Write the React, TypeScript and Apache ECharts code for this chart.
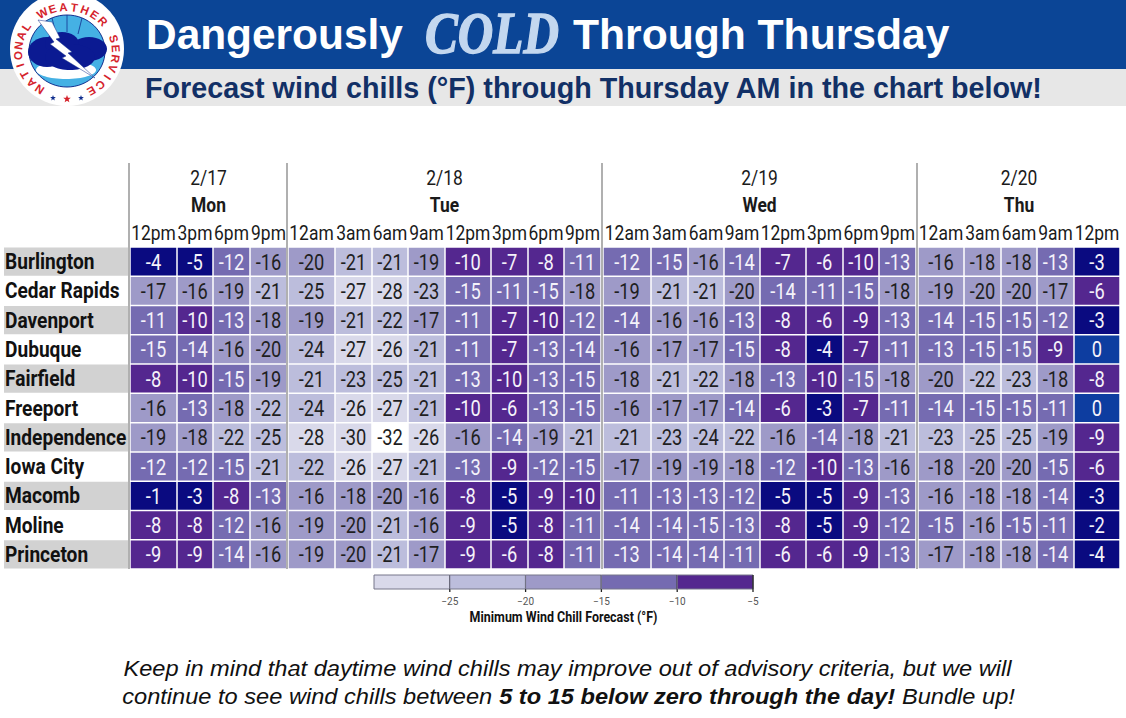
import React, { useEffect, useRef } from "react";
import * as echarts from "echarts";

const cities = ["Burlington","Cedar Rapids","Davenport","Dubuque","Fairfield","Freeport","Independence","Iowa City","Macomb","Moline","Princeton"];
const hours = ["12pm","3pm","6pm","9pm","12am","3am","6am","9am","12pm","3pm","6pm","9pm","12am","3am","6am","9am","12pm","3pm","6pm","9pm","12am","3am","6am","9am","12pm"];
const dates = ["2/17","2/18","2/19","2/20"];
const dayNames = ["Mon","Tue","Wed","Thu"];
const dayColumnCounts = [4,8,8,5];

const burlington = [-4,-5,-12,-16,-20,-21,-21,-19,-10,-7,-8,-11,-12,-15,-16,-14,-7,-6,-10,-13,-16,-18,-18,-13,-3];
const cedarRapids = [-17,-16,-19,-21,-25,-27,-28,-23,-15,-11,-15,-18,-19,-21,-21,-20,-14,-11,-15,-18,-19,-20,-20,-17,-6];
const davenport = [-11,-10,-13,-18,-19,-21,-22,-17,-11,-7,-10,-12,-14,-16,-16,-13,-8,-6,-9,-13,-14,-15,-15,-12,-3];
const dubuque = [-15,-14,-16,-20,-24,-27,-26,-21,-11,-7,-13,-14,-16,-17,-17,-15,-8,-4,-7,-11,-13,-15,-15,-9,0];
const fairfield = [-8,-10,-15,-19,-21,-23,-25,-21,-13,-10,-13,-15,-18,-21,-22,-18,-13,-10,-15,-18,-20,-22,-23,-18,-8];
const freeport = [-16,-13,-18,-22,-24,-26,-27,-21,-10,-6,-13,-15,-16,-17,-17,-14,-6,-3,-7,-11,-14,-15,-15,-11,0];
const independence = [-19,-18,-22,-25,-28,-30,-32,-26,-16,-14,-19,-21,-21,-23,-24,-22,-16,-14,-18,-21,-23,-25,-25,-19,-9];
const iowaCity = [-12,-12,-15,-21,-22,-26,-27,-21,-13,-9,-12,-15,-17,-19,-19,-18,-12,-10,-13,-16,-18,-20,-20,-15,-6];
const macomb = [-1,-3,-8,-13,-16,-18,-20,-16,-8,-5,-9,-10,-11,-13,-13,-12,-5,-5,-9,-13,-16,-18,-18,-14,-3];
const moline = [-8,-8,-12,-16,-19,-20,-21,-16,-9,-5,-8,-11,-14,-14,-15,-13,-8,-5,-9,-12,-15,-16,-15,-11,-2];
const princeton = [-9,-9,-14,-16,-19,-20,-21,-17,-9,-6,-8,-11,-13,-14,-14,-11,-6,-6,-9,-13,-17,-18,-18,-14,-4];
const rows = [burlington,cedarRapids,davenport,dubuque,fairfield,freeport,independence,iowaCity,macomb,moline,princeton];

const legendStops = [-30,-25,-20,-15,-10,-5];
const legendTitle = "Minimum Wind Chill Forecast (°F)";

// Layout only
const columnWidths = [47,36,37,37, 47,37,36,37,46,37,36,37, 48,37,36,36,46,37,36,37, 46,37,36,37,46];
const dayGaps = [0,1,2,2];
const PURPLES = ["#d9d9ea","#bcbddc","#9e9ac8","#756bb1","#54278f"];
const NAVY = "#0a0a80";
const ZERO_BLUE = "#0d3da0";
const SANS = "Liberation Sans, Arial, sans-serif";
const COND = "Roboto, sans-serif";
const SX = 0.85;

function cellColor(v: number) {
  if (v < -30) return "#ffffff";
  if (v <= -26) return PURPLES[0];
  if (v <= -21) return PURPLES[1];
  if (v <= -16) return PURPLES[2];
  if (v <= -11) return PURPLES[3];
  if (v <= -6) return PURPLES[4];
  if (v < 0) return NAVY;
  return ZERO_BLUE;
}

// column edges on the pixel-proportional x scale
const colStart: number[] = [];
const colEnd: number[] = [];
const dayStart: number[] = [];
const dayEnd: number[] = [];
(function () {
  let x = 0, c = 0;
  dayColumnCounts.forEach((n, d) => {
    x += dayGaps[d];
    dayStart.push(x);
    for (let i = 0; i < n; i++, c++) {
      colStart.push(x);
      x += columnWidths[c];
      colEnd.push(x);
    }
    dayEnd.push(x);
  });
})();
const X_MAX = colEnd[colEnd.length - 1];

const cellData: number[][] = [];
rows.forEach((r, ri) => r.forEach((v, ci) => cellData.push([ci, ri, v])));

function renderCell(params: any, api: any) {
  const c = api.value(0), r = api.value(1), v = api.value(2);
  const a = api.coord([colStart[c], r]);
  const b = api.coord([colEnd[c], r]);
  const h = api.size([0, 1])[1];
  const gap = 1.5;
  return {
    type: "group",
    children: [
      { type: "rect", shape: { x: a[0] + gap / 2, y: a[1] - h / 2 + gap / 2, width: b[0] - a[0] - gap, height: h - gap }, style: { fill: cellColor(v) } },
      { type: "text", x: (a[0] + b[0]) / 2, y: a[1] + 0.5, scaleX: SX, style: { text: String(v), fontFamily: COND, fontSize: 21.5, fill: v >= -15 ? "#f4f2fa" : "#1f1f1f", textAlign: "center", textVerticalAlign: "middle" } },
    ],
  };
}

function renderRowLabel(params: any, api: any) {
  const r = api.value(0);
  const p = api.coord([0, r]);
  const h = api.size([0, 1])[1];
  const children: any[] = [];
  if (r % 2 === 0) children.push({ type: "rect", shape: { x: p[0] - 126, y: p[1] - h / 2 + 0.5, width: 125, height: h - 1 }, style: { fill: "#d2d2d2" } });
  children.push({ type: "text", x: p[0] - 125, y: p[1], scaleX: 0.85, style: { text: cities[r], fontFamily: COND, fontWeight: 700, fontSize: 22.5, fill: "#111", textAlign: "left", textVerticalAlign: "middle" } });
  return { type: "group", children };
}

function renderHour(params: any, api: any) {
  const c = api.value(0);
  const p = api.coord([(colStart[c] + colEnd[c]) / 2, 0]);
  const h = api.size([0, 1])[1];
  return { type: "text", x: p[0], y: p[1] - h / 2 - 14, scaleX: SX, style: { text: hours[c], fontFamily: COND, fontSize: 20.5, fill: "#1a1a1a", textAlign: "center", textVerticalAlign: "middle" } };
}

function renderDay(params: any, api: any) {
  const d = api.value(0);
  const p = api.coord([(dayStart[d] + dayEnd[d]) / 2, 0]);
  const h = api.size([0, 1])[1];
  const top = p[1] - h / 2;
  return {
    type: "group",
    children: [
      { type: "line", shape: { x1: api.coord([dayStart[d], 0])[0] - 1, y1: top - 84, x2: api.coord([dayStart[d], 0])[0] - 1, y2: top + h * rows.length }, style: { stroke: "#b0b0b0", lineWidth: 2 } },
      { type: "text", x: p[0], y: top - 69, scaleX: SX, style: { text: dates[d], fontFamily: COND, fontSize: 20.5, fill: "#1a1a1a", textAlign: "center", textVerticalAlign: "middle" } },
      { type: "text", x: p[0], y: top - 42, scaleX: SX, style: { text: dayNames[d], fontFamily: COND, fontWeight: 700, fontSize: 20.5, fill: "#1a1a1a", textAlign: "center", textVerticalAlign: "middle" } },
    ],
  };
}

function renderLegendBin(params: any, api: any) {
  const lo = api.value(0), hi = api.value(1);
  const a = api.coord([lo, 0]);
  const b = api.coord([hi, 0]);
  const h = api.size([0, 1])[1];
  return {
    type: "group",
    children: [
      { type: "rect", shape: { x: a[0], y: a[1] - h / 2, width: b[0] - a[0], height: h }, style: { fill: PURPLES[params.dataIndex], stroke: "#77778a", lineWidth: 1 } },
      { type: "line", shape: { x1: b[0], y1: a[1] - h / 2, x2: b[0], y2: a[1] + h / 2 + 3 }, style: { stroke: "#222", lineWidth: 1.3 } },
    ],
  };
}

function logoGraphics(): any[] {
  const cx = 67, cy = 49;
  const dark = "#0b1a92";
  const out: any[] = [
    { type: "ellipse", shape: { cx, cy, rx: 57, ry: 57 }, style: { fill: "#ffffff" }, z: 20 },
    { type: "ellipse", shape: { cx, cy: 51, rx: 38, ry: 36 }, style: { fill: "#45b1e4", stroke: "#12308f", lineWidth: 1 }, z: 21 },
    { type: "line", shape: { x1: 52, y1: 18, x2: 56, y2: 34 }, style: { stroke: "#12308f", lineWidth: 0.8 }, z: 21 },
    { type: "line", shape: { x1: 67, y1: 15, x2: 67, y2: 32 }, style: { stroke: "#12308f", lineWidth: 0.8 }, z: 21 },
    { type: "line", shape: { x1: 82, y1: 18, x2: 78, y2: 34 }, style: { stroke: "#12308f", lineWidth: 0.8 }, z: 21 },
    { type: "ellipse", shape: { cx: 66, cy: 70, rx: 30, ry: 9 }, style: { fill: "#ffffff" }, z: 21 },
    { type: "ellipse", shape: { cx: 47, cy: 52, rx: 19, ry: 15 }, style: { fill: dark }, z: 22 },
    { type: "ellipse", shape: { cx: 89, cy: 49, rx: 18, ry: 12 }, style: { fill: dark }, z: 22 },
    { type: "ellipse", shape: { cx: 62, cy: 44, rx: 17, ry: 12 }, style: { fill: dark }, z: 22 },
    { type: "ellipse", shape: { cx: 70, cy: 57, rx: 25, ry: 13 }, style: { fill: dark }, z: 22 },
    { type: "polygon", shape: { points: [[38,20],[52,22],[60,38],[56,39],[72,52],[68,53],[95,78],[62,58],[66,56],[50,44],[54,42]] }, style: { fill: "#ffffff", stroke: "#12308f", lineWidth: 0.5 }, z: 23 },
  ];
  const word = "NATIONAL WEATHER SERVICE";
  const start = (-146 * Math.PI) / 180, end = (150 * Math.PI) / 180;
  word.split("").forEach((ch, i) => {
    if (ch === " ") return;
    const a = start + ((end - start) * i) / (word.length - 1);
    out.push({ type: "text", x: cx + 49 * Math.sin(a), y: 52 - 45 * Math.cos(a), rotation: -a, z: 24,
      style: { text: ch, fontFamily: SANS, fontWeight: 700, fontSize: 11.5, fill: "#d5232c", textAlign: "center", textVerticalAlign: "middle" } });
  });
  const star = (sx: number, sy: number, R: number, fill: string) => {
    const pts: number[][] = [];
    for (let i = 0; i < 10; i++) {
      const rr = i % 2 ? R * 0.42 : R;
      const t = (i * Math.PI) / 5;
      pts.push([sx + rr * Math.sin(t), sy - rr * Math.cos(t)]);
    }
    out.push({ type: "polygon", shape: { points: pts }, style: { fill }, z: 24 });
  };
  star(53, 98, 3, "#12308f"); star(67, 99, 4, "#d5232c"); star(81, 98, 3, "#12308f");
  return out;
}

function headerGraphics(): any[] {
  const title = (text: string, x: number, sx: number) => ({ type: "text", x, y: 35, z: 25, scaleX: sx,
    style: { text, fontFamily: SANS, fontWeight: 700, fontSize: 42, fill: "#ffffff", textAlign: "left", textVerticalAlign: "middle" } });
  return [
    { type: "rect", shape: { x: 0, y: 0, width: 1126, height: 69 }, style: { fill: "#0b4596" }, z: 10 },
    { type: "rect", shape: { x: 0, y: 69, width: 1126, height: 37 }, style: { fill: "#e7e7e7" }, z: 10 },
    title("Dangerously", 146, 1.01),
    title("Through Thursday", 573, 1.015),
    { type: "text", x: 425, y: 33, z: 25, scaleX: 0.82,
      style: { text: "COLD", fontFamily: "Liberation Serif, serif", fontStyle: "italic", fontWeight: 700, fontSize: 60, fill: "#c3d7ef", stroke: "#c3d7ef", lineWidth: 1.5, textAlign: "left", textVerticalAlign: "middle", shadowColor: "#6f9cdc", shadowBlur: 4 } },
    { type: "text", x: 145, y: 88, z: 25, scaleX: 0.99,
      style: { text: "Forecast wind chills (°F) through Thursday AM in the chart below!", fontFamily: SANS, fontWeight: 700, fontSize: 29, fill: "#123066", textAlign: "left", textVerticalAlign: "middle" } },
    ...logoGraphics(),
  ];
}

function footerGraphics(): any[] {
  const base = { fontFamily: SANS, fontStyle: "italic", fontSize: 22.5, fill: "#111" };
  return [
    { type: "text", x: 567.5, y: 668, scaleX: 1.05, style: { ...base, text: "Keep in mind that daytime wind chills may improve out of advisory criteria, but we will", textAlign: "center", textVerticalAlign: "middle" } },
    { type: "text", x: 568.5, y: 696, scaleX: 1.05, style: { ...base, text: "{n|continue to see wind chills between }{b|5 to 15 below zero through the day!}{n| Bundle up!}", textAlign: "center", textVerticalAlign: "middle",
      rich: { n: { ...base }, b: { ...base, fontWeight: 700 } } } },
    { type: "text", x: 563.5, y: 617, scaleX: 0.86, style: { text: legendTitle, fontFamily: COND, fontWeight: 700, fontSize: 14.5, fill: "#111", textAlign: "center", textVerticalAlign: "middle" } },
  ];
}

export default function App() {
  const ref = useRef<HTMLDivElement>(null);
  useEffect(() => {
    const chart = echarts.init(ref.current!, undefined, { renderer: "svg" });
    chart.setOption({
      animation: false,
      backgroundColor: "#ffffff",
      grid: [
        { left: 130, top: 247, width: 990, height: 322 },
        { left: 374, top: 575, width: 379, height: 14 },
      ],
      xAxis: [
        { type: "value", gridIndex: 0, min: 0, max: X_MAX, show: false },
        { type: "value", gridIndex: 1, min: legendStops[0], max: legendStops[legendStops.length - 1], interval: 5,
          axisLine: { show: false }, axisTick: { show: false }, splitLine: { show: false },
          axisLabel: { margin: 7, fontSize: 10, color: "#555", fontFamily: COND, formatter: (v: number) => (v === legendStops[0] ? "" : String(v).replace("-", "\u2212")) } },
      ],
      yAxis: [
        { type: "category", gridIndex: 0, data: cities, inverse: true, show: false },
        { type: "category", gridIndex: 1, data: ["legend"], show: false },
      ],
      series: [
        { type: "custom", xAxisIndex: 0, yAxisIndex: 0, clip: false, z: 2, data: cellData, renderItem: renderCell, encode: { x: 0, y: 1 }, silent: true },
        { type: "custom", xAxisIndex: 0, yAxisIndex: 0, clip: false, z: 3, data: cities.map((_, i) => [i]), renderItem: renderRowLabel, silent: true },
        { type: "custom", xAxisIndex: 0, yAxisIndex: 0, clip: false, z: 3, data: hours.map((_, i) => [i]), renderItem: renderHour, silent: true },
        { type: "custom", xAxisIndex: 0, yAxisIndex: 0, clip: false, z: 4, data: dates.map((_, i) => [i]), renderItem: renderDay, silent: true },
        { type: "custom", xAxisIndex: 1, yAxisIndex: 1, clip: false, z: 2, data: legendStops.slice(0, -1).map((v, i) => [v, legendStops[i + 1]]), renderItem: renderLegendBin, silent: true },
      ],
      graphic: [...headerGraphics(), ...footerGraphics()],
    });
    return () => chart.dispose();
  }, []);
  return <div ref={ref} style={{ position: "absolute", left: 0, top: 0, width: 1126, height: 718 }} />;
}
